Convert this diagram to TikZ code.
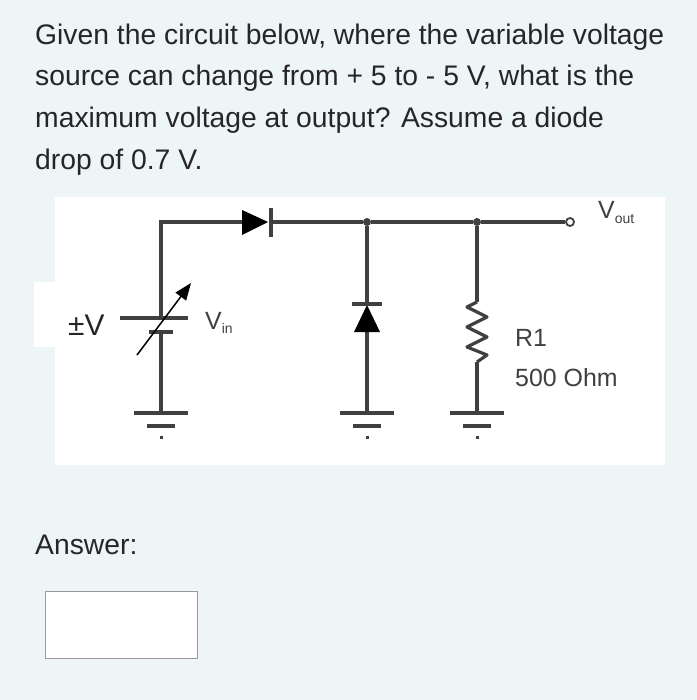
\documentclass[tikz,border=0pt]{standalone}
\usepackage{fontspec}
\setmainfont{Liberation Sans}
\usetikzlibrary{arrows.meta}
\definecolor{bg}{HTML}{EEF5F7}
\definecolor{wire}{HTML}{404040}
\tikzset{w/.style={draw=wire,line width=3.2bp},
  txt/.style={anchor=west,inner sep=0pt,font=\fontsize{28.4}{32}\selectfont,text=black!85},
  ctxt/.style={inner sep=0pt,font=\fontsize{25}{28}\selectfont,text=black!75},
  dot/.style={circle,fill=wire,inner sep=0pt,minimum size=8bp},
  gnd/.style={draw=wire,line width=3.2bp}}
\begin{document}
\begin{tikzpicture}[x=1bp,y=-1bp]
\fill[bg] (0,0) rectangle (697,700);
\useasboundingbox (0,0) rectangle (697,700);
\fill[white] (55,197) rectangle (665,465);
\fill[white] (34,282) rectangle (56,347);
\node[txt] (l1) at (35,37) {Given the circuit below, where the variable voltage};
\node[txt] (l2) at (35,78) {source can change from + 5 to - 5 V, what is the};
\node[txt] (l3) at (35,120) {maximum voltage at output? Assume a diode};
\node[txt] (l4) at (35,162) {drop of 0.7 V.};
\node[txt] (ans) at (35,545) {Answer:};
\node[draw=black!40,line width=1.2bp,fill=white,minimum width=152bp,minimum height=67bp,anchor=north west,inner sep=0pt] (box) at (45,591) {};
% coordinates
\coordinate (tl) at (161,222);
\coordinate (d1a) at (242,222);
\coordinate (d1k) at (271,222);
\node[dot] (j1) at (367,222) {};
\node[dot] (j2) at (477,222) {};
\node[circle,draw=wire,line width=1.8bp,fill=white,inner sep=0pt,minimum size=8bp] (out) at (570,222) {};
\coordinate (bt) at (161,318);
\coordinate (bb) at (161,332);
\coordinate (g1) at (161,413);
\coordinate (g2) at (367,413);
\coordinate (g3) at (477,413);
\coordinate (d2k) at (367,304);
\coordinate (d2a) at (367,332);
\coordinate (rt) at (477,302);
\coordinate (rb) at (477,362);
% wires
\draw[w] (bt) -- (tl) -- (d1a);
\draw[w] (d1k) -- (j1) -- (j2) -- (out);
\draw[w] (bb) -- (g1);
\draw[w] (j1) -- (d2k);
\draw[w] (d2a) -- (g2);
\draw[w] (j2) -- (rt);
\draw[w] (rb) -- (g3);
% diode 1
\fill[black] (242,210) -- (242,235) -- (268,222) -- cycle;
\draw[w] (271,208) -- (271,237);
% diode 2 (cathode up)
\fill[black] (354,332) -- (380,332) -- (367,305) -- cycle;
\draw[w] (352,304) -- (382,304);
% battery
\draw[w] (120,318) -- (188,318);
\draw[w] (149,332) -- (173,332);
\draw[line width=1.5bp,-{Triangle[length=17bp,width=13bp]}] (137,355) -- (191,283);
% resistor
\draw[w,line join=round] (rt) -- (467,307) -- (487,317) -- (467,327) -- (487,337) -- (467,347) -- (487,355) -- (rb);
% grounds
\foreach \g in {g1,g2,g3}{
 \draw[gnd] ([xshift=-27bp]\g) -- ([xshift=27bp]\g);
 \draw[gnd] ([xshift=-14bp,yshift=-13bp]\g) -- ([xshift=14bp,yshift=-13bp]\g);
 \fill[wire] ([xshift=-1.5bp,yshift=-23bp]\g) rectangle ([xshift=1.5bp,yshift=-26bp]\g);}
% labels
\node[ctxt,anchor=west,font=\fontsize{30}{32}\selectfont,text=black!85] (pm) at (68,325) {±V};
\node[ctxt,anchor=west] (vin) at (205,323) {V\raisebox{-4bp}{\fontsize{14}{15}\selectfont in}};
\node[ctxt,anchor=west] (vout) at (598,212) {V\raisebox{-5bp}{\fontsize{14}{15}\selectfont out}};
\node[ctxt,anchor=west] (r1) at (515,338) {R1};
\node[ctxt,anchor=west] (ohm) at (515,378) {500 Ohm};
\end{tikzpicture}
\end{document}
